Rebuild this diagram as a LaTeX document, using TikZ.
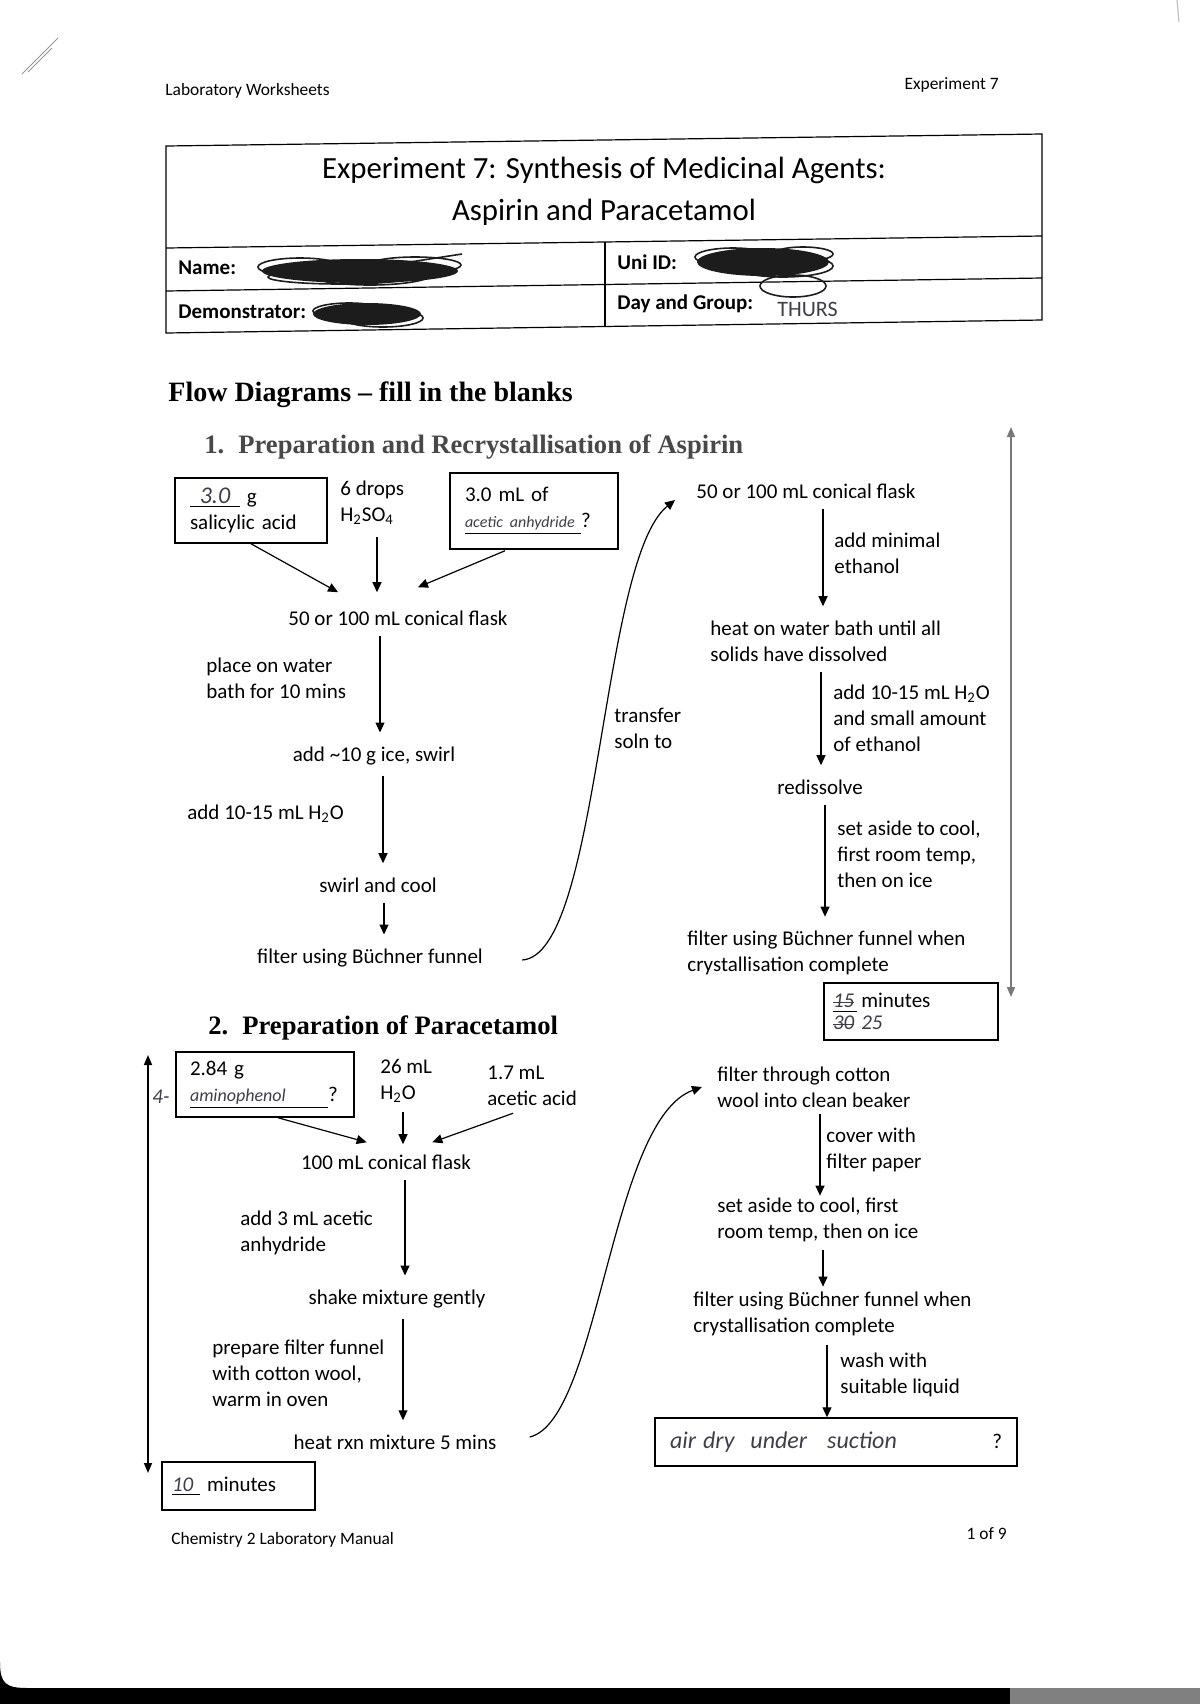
\documentclass[tikz,border=0pt]{standalone}
\usepackage{fontspec}
\setmainfont{Carlito}
\newfontfamily\headfont{Liberation Serif}
\usepackage{tikz}
\usetikzlibrary{arrows.meta, positioning, calc}
\definecolor{inkgray}{RGB}{62,62,72}
\definecolor{headgray}{RGB}{72,72,72}
\definecolor{spangray}{RGB}{120,120,120}
\definecolor{scribblack}{RGB}{28,28,28}
\definecolor{edgegray}{RGB}{150,150,150}
\newcommand{\bodysize}{\fontsize{10.5}{13}\selectfont}
\newcommand{\hw}[1]{{\itshape\color{inkgray}#1}}
\newsavebox{\strikebox}
\newcommand{\strike}[1]{\leavevmode\sbox{\strikebox}{#1}\rlap{\usebox{\strikebox}}\rule[2.5pt]{\wd\strikebox}{0.5pt}}
\tikzset{
  txt/.style={inner sep=0pt, font=\bodysize, align=left},
  txtl/.style={txt, anchor=west},
  pagetxt/.style={inner sep=0pt, font=\fontsize{8.7}{10}\selectfont},
  fieldtxt/.style={inner sep=0pt, anchor=west, font=\fontsize{10.5}{13}\selectfont\bfseries},
  heading/.style={inner sep=0pt, anchor=west, font=\headfont\bfseries\fontsize{13.3}{16}\selectfont},
  box/.style={draw, line width=0.75pt, inner xsep=7.5pt, inner ysep=0pt, align=left, font=\bodysize},
  formline/.style={line width=0.6pt},
  feed/.style={-{Triangle[length=5pt,width=4.5pt]}, line width=0.6pt},
  flow/.style={feed, shorten <=5pt, shorten >=7pt},
  span/.style={{Triangle[length=5pt,width=4pt]}-{Triangle[length=5pt,width=4pt]}, line width=0.8pt},
  scrib/.style={draw=scribblack, line width=0.8pt},
}

\begin{document}
\begin{tikzpicture}[x=0.5pt, y=-0.5pt]
  \useasboundingbox (0,0) rectangle (1200,1704);
  % page edges
  \fill[black] (0,1688) rectangle (1200,1704);
  \fill[black!50] (1010,1688) rectangle (1200,1704);
  \fill[black] (0,1662) .. controls (0,1684) and (6,1688) .. (28,1688) -- (0,1688) -- cycle;
  \draw[edgegray, line width=0.5pt] (22,74) -- (58,38);
  \draw[edgegray, line width=0.5pt] (28,72) -- (52,48);
  \draw[edgegray!60, line width=0.6pt] (1177,0) -- (1179,22);

  % running heads
  \node[pagetxt, anchor=west] (hdrL) at (165,91) {Laboratory Worksheets};
  \node[pagetxt, anchor=east] (hdrR) at (999,85) {Experiment 7};
  \node[pagetxt, anchor=west] (ftrL) at (171,1540) {Chemistry 2 Laboratory Manual};
  \node[pagetxt, anchor=east] (ftrR) at (1007,1534) {1 of 9};

  % title form
  \draw[formline] (166,146) -- (1042,134) -- (1042,320) -- (166,333) -- cycle;
  \draw[formline] (166,248) -- (1042,236);
  \draw[formline] (166,291) -- (1042,278);
  \draw[formline] (605,242) -- (605,326.5);
  \node[inner sep=0pt, align=center, font=\fontsize{15.4}{21}\selectfont] (title) at (604,191)
    {Experiment 7: Synthesis of Medicinal Agents:\\Aspirin and Paracetamol};
  \node[fieldtxt] (nameLbl) at (178,268) {Name:};
  \node[fieldtxt] (demoLbl) at (178,312) {Demonstrator:};
  \node[fieldtxt] (uniLbl) at (617,262) {Uni ID:};
  \node[fieldtxt] (dayLbl) at (617,304) {Day and Group:};
  \node[inner sep=0pt, anchor=west, font=\fontsize{11}{13}\selectfont, text=inkgray] (dayVal) at (777,309) {THURS};
  % redacted entries
  \fill[scribblack] (360,271) ellipse (98 and 12);
  \foreach \dx/\dy/\rx/\ry in {-60/-4/42/9, 10/3/62/11, 55/-6/46/8, -20/6/72/7}
    \draw[scrib] (360+\dx,271+\dy) ellipse ({\rx} and {\ry});
  \draw[scrib] (410,262) -- (462,254);
  \fill[scribblack] (763,262) ellipse (66 and 14);
  \foreach \dx/\dy/\rx/\ry in {-30/-5/38/9, 20/4/50/11, 40/-8/30/7}
    \draw[scrib] (763+\dx,262+\dy) ellipse ({\rx} and {\ry});
  \draw[scrib] (793,286) ellipse (33 and 11);
  \fill[scribblack] (367,314) ellipse (54 and 11);
  \foreach \dx/\dy/\rx/\ry in {-18/-3/36/8, 16/4/40/9}
    \draw[scrib] (367+\dx,314+\dy) ellipse ({\rx} and {\ry});

  % headings
  \node[heading, font={\headfont\bfseries\fontsize{14}{17}\selectfont}] (flowHd) at (168,395)
    {Flow Diagrams – fill in the blanks};
  \node[heading, text=headgray] (secA) at (204,447)
    {1.\hspace{7pt}Preparation and Recrystallisation of Aspirin};
  \node[heading] (secB) at (208,1028) {2.\hspace{7pt}Preparation of Paracetamol};

  % aspirin: reaction
  \node[box, text width=61pt, minimum height=32.5pt] (boxSal) at (251,510.5)
    {\underline{\makebox[25pt]{\hw{\fontsize{12}{13}\selectfont 3.0}}}\ g\\salicylic acid};
  \node[txtl] (drops) at (340,503) {6 drops\\H\textsubscript{2}SO\textsubscript{4}};
  \node[box, text width=69pt, minimum height=38pt] (boxAnh) at (534,511)
    {3.0 mL of\\\underline{\makebox[58pt][l]{\hw{\fontsize{8}{10}\selectfont acetic anhydride}}}?};
  \node[txt] (flaskA) at (398,618) {50 or 100 mL conical flask};
  \node[txtl] (bath) at (206,678) {place on water\\bath for 10 mins};
  \node[txt] (ice) at (374,756) {add \textasciitilde10 g ice, swirl};
  \node[txtl] (water1) at (187,814) {add 10-15 mL H\textsubscript{2}O};
  \node[txt] (cool) at (378,885) {swirl and cool};
  \node[txt] (filterA) at (370,958) {filter using Büchner funnel};
  \node[txtl] (transfer) at (614,728) {transfer\\soln to};
  \draw[feed] (boxSal.south) -- ($(flaskA.north west)+(50,-18)$);
  \draw[feed, shorten <=6pt, shorten >=9pt] (377,0 |- drops.south) -- (377,0 |- flaskA.north);
  \draw[feed] ($(boxAnh.south)+(-29,1)$) -- ($(flaskA.north east)+(-90,-23)$);
  \draw[flow] (380,0 |- flaskA.south) -- (380,0 |- ice.north);
  \draw[flow] (383,0 |- ice.south) -- (383,0 |- cool.north);
  \draw[flow] (384,0 |- cool.south) -- (384,0 |- filterA.north);

  % aspirin: recrystallisation
  \node[txtl] (flaskB) at (696,491) {50 or 100 mL conical flask};
  \node[txtl] (ethanol) at (834,553) {add minimal\\ethanol};
  \node[txtl] (heat) at (710,641) {heat on water bath until all\\solids have dissolved};
  \node[txtl] (water2) at (833,718) {add 10-15 mL H\textsubscript{2}O\\and small amount\\of ethanol};
  \node[txt] (redis) at (820,787) {redissolve};
  \node[txtl] (cool2) at (837,854) {set aside to cool,\\first room temp,\\then on ice};
  \node[txtl] (filterB) at (687,953) {filter using Büchner funnel when\\crystallisation complete};
  \node[box, inner xsep=4.5pt, text width=78pt, minimum height=28.5pt, font=\fontsize{10.5}{11}\selectfont] (boxMinA) at (911,1011.5)
    {\leavevmode\rlap{\rule[-2pt]{12pt}{0.5pt}}\hw{\strike{15}}\ minutes\\\leavevmode\hw{\strike{30}\ 25}};
  \draw[feed] ($(filterA.east)+(39,2)$) .. controls +(78,-5) and +(-75,60) .. ($(flaskB.west)+(-21,9)$);
  \draw[flow] (823,0 |- flaskB.south) -- (823,0 |- heat.north);
  \draw[flow] (821,0 |- heat.south) -- (821,0 |- redis.north);
  \draw[flow] (825,0 |- redis.south) -- (825,0 |- filterB.north);
  \coordinate (spanTopA) at (1011,427);
  \coordinate (spanBotA) at (1011,997);
  \draw[span, spangray] (spanTopA) -- (spanBotA);

  % paracetamol: reaction
  \node[box, inner xsep=7pt, text width=75pt, minimum height=32.5pt] (boxAmi) at (265,1084.5)
    {2.84 g\\\underline{\makebox[69pt][l]{\hw{\fontsize{9}{10}\selectfont aminophenol}}}?};
  \node[txt] (four) at (161,1097) {\hw{4-}};
  \node[txtl] (water3) at (380,1081) {26 mL\\H\textsubscript{2}O};
  \node[txtl] (acetic) at (487,1086) {1.7 mL\\acetic acid};
  \node[txt] (flaskC) at (386,1162) {100 mL conical flask};
  \node[txtl] (anhyd) at (240,1233) {add 3 mL acetic\\anhydride};
  \node[txt] (shake) at (397,1299) {shake mixture gently};
  \node[txtl] (funnel) at (212,1373) {prepare filter funnel\\with cotton wool,\\warm in oven};
  \node[txt] (heatRxn) at (395,1442) {heat rxn mixture 5 mins};
  \node[box, inner xsep=5pt, text width=66.5pt, minimum height=24pt] (boxMinB) at (238.5,1486)
    {\underline{\makebox[14pt][l]{\hw{10}}}\ minutes};
  \draw[feed] ($(boxAmi.south)+(13,0)$) -- ($(flaskC.north west)+(66,-12)$);
  \draw[feed, shorten <=4.5pt, shorten >=5pt] (403,0 |- water3.south) -- (403,0 |- flaskC.north);
  \draw[feed] ($(acetic.south)+(-19,7)$) -- ($(flaskC.north east)+(-39,-12)$);
  \draw[flow] (405,0 |- flaskC.south) -- (405,0 |- shake.north);
  \draw[flow] (403,0 |- shake.south) -- (403,0 |- heatRxn.north);
  \coordinate (spanTopB) at (148,1055);
  \coordinate (spanBotB) at (148,1473);
  \draw[span] (spanTopB) -- (spanBotB);

  % paracetamol: recrystallisation
  \node[txtl] (filterC) at (717,1087) {filter through cotton\\wool into clean beaker};
  \node[txtl] (cover) at (826,1150) {cover with\\filter paper};
  \node[txtl] (cool3) at (717,1220) {set aside to cool, first\\room temp, then on ice};
  \node[txtl] (filterD) at (693,1314) {filter using Büchner funnel when\\crystallisation complete};
  \node[txtl] (wash) at (840,1375) {wash with\\suitable liquid};
  \node[box, text width=166pt, minimum height=24pt] (boxDry) at (836,1442)
    {\hw{\fontsize{12}{13}\selectfont air dry\hspace{8pt}under\hspace{10pt}suction}\hfill ?};
  \draw[feed] ($(heatRxn.east)+(33,-5)$) .. controls +(70,-17) and +(-92,33) .. ($(filterC.west)+(-15,0)$);
  \draw[flow, shorten <=3pt, shorten >=1pt] (820,0 |- filterC.south) -- (820,0 |- cool3.north);
  \draw[flow, shorten <=4pt, shorten >=2.5pt] (823,0 |- cool3.south) -- (823,0 |- filterD.north);
  \draw[flow, shorten <=4.5pt, shorten >=0pt] (827,0 |- filterD.south) -- (827,0 |- boxDry.north);
\end{tikzpicture}
\end{document}
